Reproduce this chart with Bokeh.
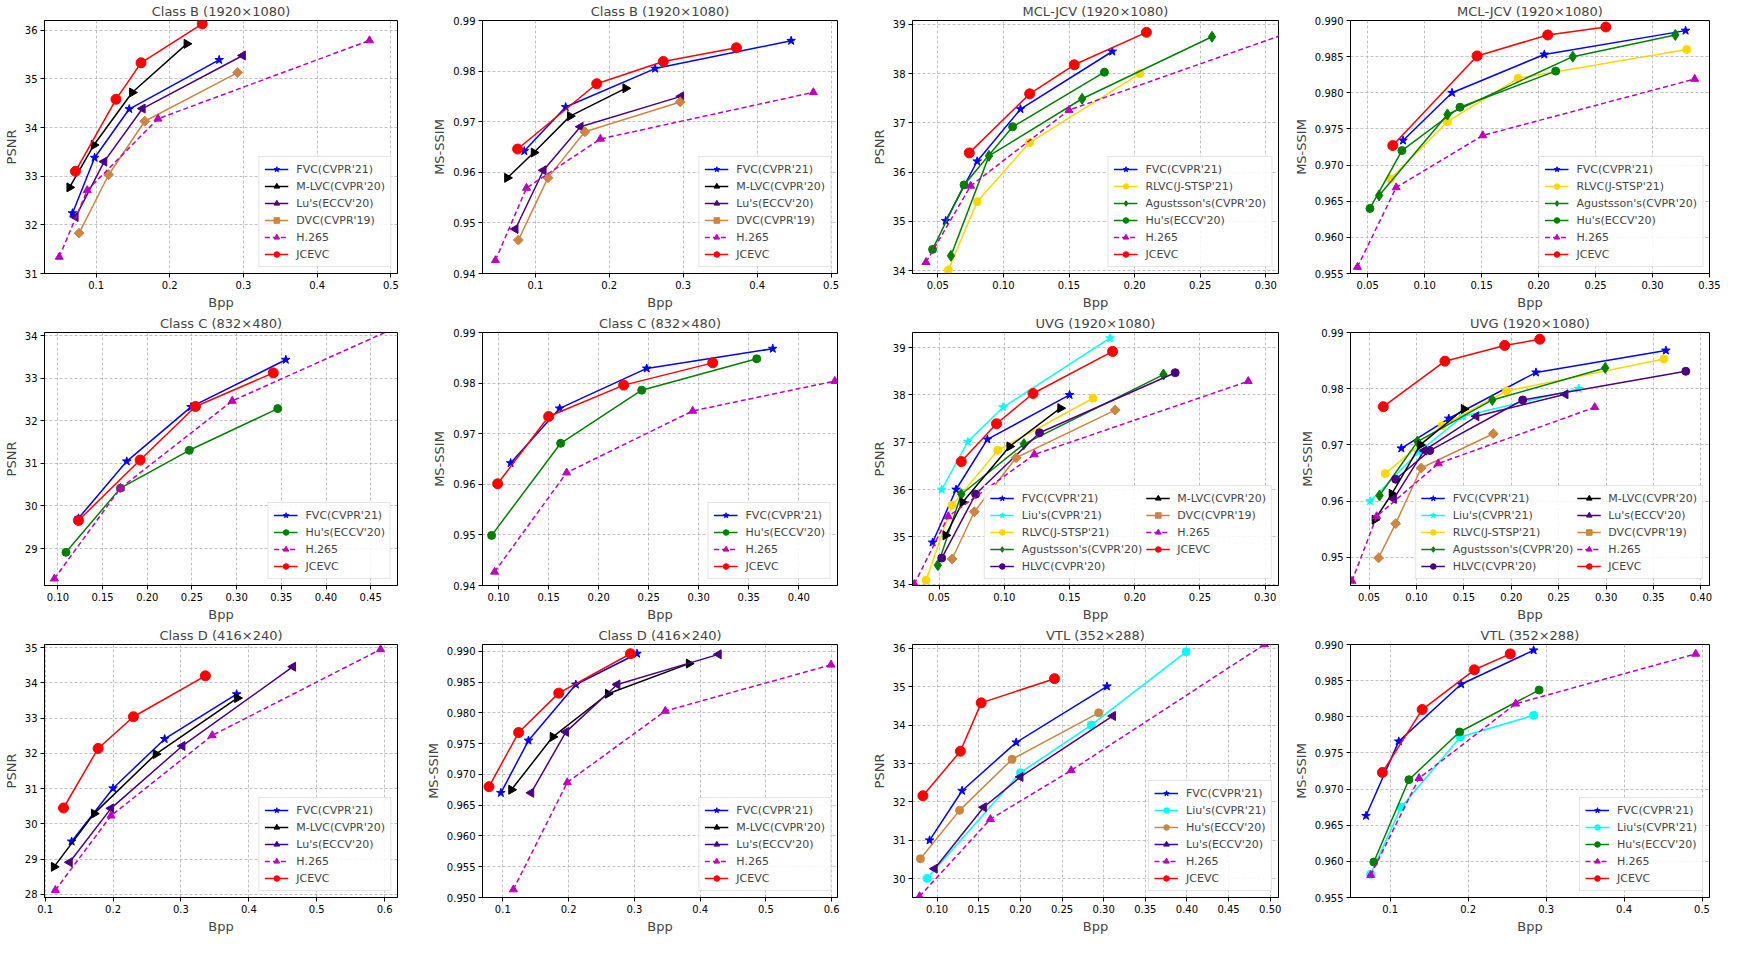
import numpy as np
from bokeh.plotting import figure
from bokeh.layouts import gridplot
from bokeh.models import FixedTicker, Range1d, Legend, LegendItem, NumeralTickFormatter
from bokeh.embed import file_html
from bokeh.resources import INLINE

# ---------------- data (Bpp, metric) ----------------
LABELS = {
    "fvc": "FVC(CVPR'21)", "mlvc": "M-LVC(CVPR'20)", "lu": "Lu's(ECCV'20)",
    "dvc": "DVC(CVPR'19)", "h265": "H.265", "jcevc": "JCEVC",
    "rlvc": "RLVC(J-STSP'21)", "agu": "Agustsson's(CVPR'20)", "hu_g": "Hu's(ECCV'20)",
    "hu_p": "Hu's(ECCV'20)", "liu_s": "Liu's(CVPR'21)", "liu_c": "Liu's(CVPR'21)",
    "hlvc": "HLVC(CVPR'20)",
}

classB_psnr = {
    "fvc":   ([0.068, 0.098, 0.145, 0.267], [32.24, 33.38, 34.38, 35.39]),
    "mlvc":  ([0.064, 0.097, 0.149, 0.223], [32.77, 33.64, 34.72, 35.72]),
    "lu":    ([0.072, 0.111, 0.163, 0.299], [32.16, 33.30, 34.39, 35.48]),
    "dvc":   ([0.077, 0.117, 0.166, 0.292], [31.83, 33.03, 34.13, 35.13]),
    "h265":  ([0.050, 0.088, 0.184, 0.471], [31.34, 32.71, 34.18, 35.79]),
    "jcevc": ([0.072, 0.127, 0.161, 0.244], [33.10, 34.58, 35.33, 36.13]),
}
classB_ssim = {
    "fvc":   ([0.085, 0.141, 0.262, 0.446], [0.9642, 0.9729, 0.9805, 0.9860]),
    "mlvc":  ([0.062, 0.098, 0.147, 0.222], [0.9589, 0.9639, 0.9711, 0.9766]),
    "lu":    ([0.073, 0.111, 0.161, 0.297], [0.9488, 0.9604, 0.9690, 0.9750]),
    "dvc":   ([0.077, 0.117, 0.167, 0.296], [0.9466, 0.9589, 0.9680, 0.9739]),
    "h265":  ([0.046, 0.088, 0.188, 0.476], [0.9426, 0.9569, 0.9666, 0.9758]),
    "jcevc": ([0.076, 0.183, 0.273, 0.372], [0.9646, 0.9775, 0.9819, 0.9846]),
}
mcl_psnr = {
    "fvc":   ([0.056, 0.080, 0.113, 0.183], [35.01, 36.22, 37.28, 38.45]),
    "rlvc":  ([0.058, 0.080, 0.120, 0.204], [34.01, 35.40, 36.60, 38.00]),
    "agu":   ([0.060, 0.089, 0.160, 0.259], [34.30, 36.33, 37.49, 38.75]),
    "hu_g":  ([0.046, 0.070, 0.107, 0.177], [34.43, 35.74, 36.92, 38.03]),
    "h265":  ([0.041, 0.075, 0.150, 0.330], [34.17, 35.72, 37.26, 38.95]),
    "jcevc": ([0.074, 0.120, 0.154, 0.209], [36.39, 37.59, 38.18, 38.84]),
}
mcl_ssim = {
    "fvc":   ([0.081, 0.124, 0.205, 0.329], [0.9734, 0.9800, 0.9853, 0.9886]),
    "rlvc":  ([0.070, 0.120, 0.182, 0.330], [0.9681, 0.9760, 0.9820, 0.9860]),
    "agu":   ([0.060, 0.120, 0.230, 0.320], [0.9658, 0.9770, 0.9850, 0.9880]),
    "hu_g":  ([0.052, 0.080, 0.131, 0.215], [0.9640, 0.9720, 0.9780, 0.9830]),
    "h265":  ([0.041, 0.075, 0.151, 0.337], [0.9559, 0.9669, 0.9741, 0.9819]),
    "jcevc": ([0.072, 0.146, 0.208, 0.259], [0.9727, 0.9851, 0.9880, 0.9891]),
}
classC_psnr = {
    "fvc":   ([0.123, 0.177, 0.249, 0.355], [29.71, 31.05, 32.33, 33.44]),
    "hu_g":  ([0.109, 0.170, 0.247, 0.346], [28.91, 30.42, 31.31, 32.29]),
    "h265":  ([0.096, 0.170, 0.295, 0.500], [28.29, 30.42, 32.47, 34.40]),
    "jcevc": ([0.123, 0.192, 0.254, 0.341], [29.66, 31.08, 32.34, 33.13]),
}
classC_ssim = {
    "fvc":   ([0.112, 0.161, 0.248, 0.374], [0.9642, 0.9750, 0.9829, 0.9868]),
    "hu_g":  ([0.093, 0.162, 0.243, 0.358], [0.9499, 0.9681, 0.9786, 0.9848]),
    "h265":  ([0.096, 0.168, 0.294, 0.436], [0.9427, 0.9623, 0.9745, 0.9804]),
    "jcevc": ([0.099, 0.150, 0.225, 0.314], [0.9601, 0.9734, 0.9796, 0.9840]),
}
uvg_psnr = {
    "fvc":   ([0.045, 0.063, 0.087, 0.150], [34.88, 36.00, 37.06, 38.00]),
    "liu_s": ([0.052, 0.072, 0.099, 0.181], [36.00, 37.01, 37.74, 39.20]),
    "rlvc":  ([0.040, 0.060, 0.095, 0.168], [34.08, 35.67, 36.83, 37.93]),
    "agu":   ([0.049, 0.067, 0.115, 0.222], [34.40, 35.90, 36.96, 38.43]),
    "hlvc":  ([0.052, 0.078, 0.127, 0.231], [34.55, 35.90, 37.20, 38.47]),
    "mlvc":  ([0.055, 0.068, 0.104, 0.143], [35.03, 35.73, 36.91, 37.72]),
    "dvc":   ([0.060, 0.077, 0.109, 0.185], [34.53, 35.53, 36.67, 37.68]),
    "h265":  ([0.031, 0.057, 0.123, 0.287], [34.00, 35.43, 36.74, 38.29]),
    "jcevc": ([0.067, 0.094, 0.122, 0.183], [36.59, 37.39, 38.03, 38.92]),
}
uvg_ssim = {
    "fvc":   ([0.084, 0.134, 0.226, 0.363], [0.9694, 0.9747, 0.9829, 0.9868]),
    "liu_s": ([0.051, 0.102, 0.149, 0.271], [0.9600, 0.9687, 0.9751, 0.9800]),
    "rlvc":  ([0.067, 0.127, 0.195, 0.361], [0.9649, 0.9734, 0.9796, 0.9853]),
    "agu":   ([0.061, 0.101, 0.180, 0.299], [0.9610, 0.9706, 0.9780, 0.9837]),
    "hlvc":  ([0.078, 0.114, 0.212, 0.384], [0.9639, 0.9690, 0.9780, 0.9831]),
    "mlvc":  ([0.056, 0.074, 0.104, 0.150], [0.9567, 0.9613, 0.9700, 0.9764]),
    "lu":    ([0.076, 0.108, 0.163, 0.257], [0.9604, 0.9690, 0.9751, 0.9790]),
    "dvc":   ([0.060, 0.078, 0.105, 0.181], [0.9499, 0.9560, 0.9659, 0.9720]),
    "h265":  ([0.032, 0.058, 0.123, 0.288], [0.9458, 0.9573, 0.9667, 0.9767]),
    "jcevc": ([0.065, 0.130, 0.193, 0.230], [0.9768, 0.9849, 0.9877, 0.9888]),
}
classD_psnr = {
    "fvc":   ([0.139, 0.200, 0.276, 0.382], [29.50, 31.01, 32.41, 33.68]),
    "mlvc":  ([0.113, 0.172, 0.263, 0.383], [28.78, 30.29, 31.98, 33.57]),
    "lu":    ([0.136, 0.197, 0.302, 0.465], [28.91, 30.44, 32.21, 34.46]),
    "h265":  ([0.115, 0.197, 0.346, 0.594], [28.12, 30.23, 32.51, 34.95]),
    "jcevc": ([0.127, 0.178, 0.230, 0.336], [30.45, 32.14, 33.04, 34.20]),
}
classD_ssim = {
    "fvc":   ([0.097, 0.139, 0.211, 0.304], [0.9670, 0.9755, 0.9846, 0.9896]),
    "mlvc":  ([0.113, 0.176, 0.260, 0.383], [0.9675, 0.9761, 0.9831, 0.9880]),
    "lu":    ([0.143, 0.196, 0.274, 0.428], [0.9670, 0.9769, 0.9846, 0.9895]),
    "h265":  ([0.116, 0.198, 0.347, 0.599], [0.9513, 0.9687, 0.9803, 0.9878]),
    "jcevc": ([0.079, 0.124, 0.185, 0.294], [0.9680, 0.9768, 0.9832, 0.9896]),
}
vtl_psnr = {
    "fvc":   ([0.091, 0.130, 0.195, 0.304], [31.00, 32.29, 33.55, 35.01]),
    "liu_c": ([0.088, 0.200, 0.285, 0.399], [30.01, 32.76, 34.00, 35.91]),
    "hu_p":  ([0.080, 0.127, 0.190, 0.294], [30.52, 31.78, 33.11, 34.32]),
    "lu":    ([0.097, 0.156, 0.200, 0.311], [30.26, 31.86, 32.65, 34.24]),
    "h265":  ([0.079, 0.164, 0.261, 0.493], [29.54, 31.55, 32.82, 36.10]),
    "jcevc": ([0.083, 0.128, 0.153, 0.241], [32.16, 33.32, 34.58, 35.21]),
}
vtl_ssim = {
    "fvc":   ([0.069, 0.111, 0.191, 0.284], [0.9663, 0.9766, 0.9845, 0.9892]),
    "liu_c": ([0.075, 0.114, 0.190, 0.284], [0.9582, 0.9675, 0.9772, 0.9802]),
    "hu_g":  ([0.079, 0.124, 0.189, 0.291], [0.9599, 0.9713, 0.9779, 0.9837]),
    "h265":  ([0.075, 0.137, 0.261, 0.492], [0.9581, 0.9715, 0.9818, 0.9887]),
    "jcevc": ([0.090, 0.141, 0.208, 0.254], [0.9723, 0.9810, 0.9865, 0.9887]),
}

# tick values
ticks_x_01_05 = [0.1, 0.2, 0.3, 0.4, 0.5]
ticks_x_01_06 = [0.1, 0.2, 0.3, 0.4, 0.5, 0.6]
ticks_x_005_030 = [0.05, 0.10, 0.15, 0.20, 0.25, 0.30]
ticks_x_005_035 = [0.05, 0.10, 0.15, 0.20, 0.25, 0.30, 0.35]
ticks_x_005_040 = [0.05, 0.10, 0.15, 0.20, 0.25, 0.30, 0.35, 0.40]
ticks_x_010_045 = [0.10, 0.15, 0.20, 0.25, 0.30, 0.35, 0.40, 0.45]
ticks_x_010_040 = [0.10, 0.15, 0.20, 0.25, 0.30, 0.35, 0.40]
ticks_x_010_050 = [0.10, 0.15, 0.20, 0.25, 0.30, 0.35, 0.40, 0.45, 0.50]
ticks_y_31_36 = [31, 32, 33, 34, 35, 36]
ticks_y_34_39 = [34, 35, 36, 37, 38, 39]
ticks_y_29_34 = [29, 30, 31, 32, 33, 34]
ticks_y_28_35 = [28, 29, 30, 31, 32, 33, 34, 35]
ticks_y_30_36 = [30, 31, 32, 33, 34, 35, 36]
ticks_y_094_099 = [0.94, 0.95, 0.96, 0.97, 0.98, 0.99]
ticks_y_095_099 = [0.95, 0.96, 0.97, 0.98, 0.99]
ticks_y_0955_0990 = [0.955, 0.960, 0.965, 0.970, 0.975, 0.980, 0.985, 0.990]
ticks_y_0950_0990 = [0.950, 0.955, 0.960, 0.965, 0.970, 0.975, 0.980, 0.985, 0.990]

# ---------------- styles ----------------
STYLES = {
    "fvc":   dict(color="#0000ff", marker="star", size=9, angle=0.0, dash="solid"),
    "mlvc":  dict(color="#000000", marker="triangle", size=9, angle=-np.pi / 2, dash="solid"),
    "lu":    dict(color="#4b0082", marker="triangle", size=9, angle=np.pi / 2, dash="solid"),
    "dvc":   dict(color="#cd853f", marker="square", size=7, angle=np.pi / 4, dash="solid"),
    "h265":  dict(color="#bf00bf", marker="triangle", size=8, angle=0.0, dash="5 3"),
    "jcevc": dict(color="#ff0000", marker="circle", size=10, angle=0.0, dash="solid"),
    "rlvc":  dict(color="#ffd700", marker="circle", size=8, angle=0.0, dash="solid"),
    "agu":   dict(color="#008000", marker="diamond", size=11, angle=0.0, dash="solid"),
    "hu_g":  dict(color="#008000", marker="circle", size=8, angle=0.0, dash="solid"),
    "hu_p":  dict(color="#cd853f", marker="circle", size=8, angle=0.0, dash="solid"),
    "liu_s": dict(color="#00ffff", marker="star", size=9, angle=0.0, dash="solid"),
    "liu_c": dict(color="#00ffff", marker="circle", size=8, angle=0.0, dash="solid"),
    "hlvc":  dict(color="#4b0082", marker="circle", size=8, angle=0.0, dash="solid"),
}

FONT = "DejaVu Sans"
COL_W = [422, 434, 434, 431]
COL_BL = [25, 48, 56, 58]
COL_BR = [25, 19, 12, 12]
ROW_H = 312


def make_panel(col, title, ylabel, data, xr, yr, xticks, yticks, xfmt, yfmt, nrows=None):
    p = figure(width=COL_W[col], height=ROW_H, x_range=Range1d(*xr), y_range=Range1d(*yr),
               output_backend="svg", toolbar_location=None,
               min_border_left=COL_BL[col], min_border_right=COL_BR[col],
               min_border_top=2, min_border_bottom=2)
    p.title.text = title
    p.title.align = "center"
    p.title.text_font = FONT
    p.title.text_font_size = "13px"
    p.title.text_font_style = "normal"
    p.title.standoff = 3
    p.outline_line_color = "black"
    p.outline_line_alpha = 1.0
    p.outline_line_width = 1

    for ax in (p.xaxis[0], p.yaxis[0]):
        ax.axis_label_text_font = FONT
        ax.axis_label_text_font_size = "13px"
        ax.axis_label_text_font_style = "normal"
        ax.axis_label_standoff = 3
        ax.major_label_text_font = FONT
        ax.major_label_text_font_size = "10px"
        ax.major_label_text_color = "black"
        ax.major_label_standoff = 3
        ax.major_tick_in = 0
        ax.major_tick_out = 4
        ax.minor_tick_line_color = None
        ax.axis_line_color = "black"
        ax.major_tick_line_color = "black"
    p.xaxis.axis_label = "Bpp"
    p.yaxis.axis_label = ylabel
    p.xaxis.ticker = FixedTicker(ticks=xticks)
    p.yaxis.ticker = FixedTicker(ticks=yticks)
    p.xaxis.formatter = NumeralTickFormatter(format=xfmt)
    p.yaxis.formatter = NumeralTickFormatter(format=yfmt)

    for g in (p.xgrid[0], p.ygrid[0]):
        g.grid_line_color = "#b0b0b0"
        g.grid_line_dash = "3 2"
        g.grid_line_width = 0.8

    items = []
    for key, (xs, ys) in data.items():
        st = STYLES[key]
        lr = p.line(xs, ys, line_color=st["color"], line_width=1.5, line_dash=st["dash"])
        sr = p.scatter(xs, ys, marker=st["marker"], size=st["size"], angle=st["angle"],
                       fill_color=st["color"], line_color=st["color"])
        items.append(LegendItem(label=LABELS[key], renderers=[lr, sr]))

    leg = Legend(items=items, location="bottom_right")
    leg.label_text_font = FONT
    leg.label_text_font_size = "11px"
    leg.glyph_width = 24
    leg.glyph_height = 14
    leg.label_height = 14
    leg.label_standoff = 8
    leg.spacing = 3
    leg.padding = 5
    leg.margin = 6
    leg.border_line_color = "#cccccc"
    leg.border_line_width = 1
    leg.background_fill_alpha = 0.85
    if nrows:
        leg.nrows = nrows
    p.add_layout(leg)
    return p


p1 = make_panel(0, "Class B (1920×1080)", "PSNR", classB_psnr, (0.030, 0.509), (31.0, 36.2),
                ticks_x_01_05, ticks_y_31_36, "0.0", "0")
p2 = make_panel(1, "Class B (1920×1080)", "MS-SSIM", classB_ssim, (0.0285, 0.5087), (0.94, 0.99),
                ticks_x_01_05, ticks_y_094_099, "0.0", "0.00")
p3 = make_panel(2, "MCL-JCV (1920×1080)", "PSNR", mcl_psnr, (0.0307, 0.3097), (33.94, 39.08),
                ticks_x_005_030, ticks_y_34_39, "0.00", "0")
p4 = make_panel(3, "MCL-JCV (1920×1080)", "MS-SSIM", mcl_ssim, (0.0349, 0.35), (0.955, 0.990),
                ticks_x_005_035, ticks_y_0955_0990, "0.00", "0.000")
p5 = make_panel(0, "Class C (832×480)", "PSNR", classC_psnr, (0.085, 0.480), (28.13, 34.08),
                ticks_x_010_045, ticks_y_29_34, "0.00", "0")
p6 = make_panel(1, "Class C (832×480)", "MS-SSIM", classC_ssim, (0.0839, 0.4387), (0.94, 0.99),
                ticks_x_010_040, ticks_y_094_099, "0.00", "0.00")
p7 = make_panel(2, "UVG (1920×1080)", "PSNR", uvg_psnr, (0.0296, 0.3102), (33.97, 39.32),
                ticks_x_005_030, ticks_y_34_39, "0.00", "0", nrows=5)
p8 = make_panel(3, "UVG (1920×1080)", "MS-SSIM", uvg_ssim, (0.0304, 0.409), (0.945, 0.99),
                ticks_x_005_040, ticks_y_095_099, "0.00", "0.00", nrows=5)
p9 = make_panel(0, "Class D (416×240)", "PSNR", classD_psnr, (0.099, 0.619), (27.91, 35.09),
                ticks_x_01_06, ticks_y_28_35, "0.0", "0")
p10 = make_panel(1, "Class D (416×240)", "MS-SSIM", classD_ssim, (0.0691, 0.6088), (0.95, 0.9911),
                 ticks_x_01_06, ticks_y_0950_0990, "0.0", "0.000")
p11 = make_panel(2, "VTL (352×288)", "PSNR", vtl_psnr, (0.0705, 0.5099), (29.51, 36.10),
                 ticks_x_010_050, ticks_y_30_36, "0.00", "0")
p12 = make_panel(3, "VTL (352×288)", "MS-SSIM", vtl_ssim, (0.0491, 0.5096), (0.955, 0.990),
                 ticks_x_01_05, ticks_y_0955_0990, "0.0", "0.000")

grid = gridplot([[p1, p2, p3, p4], [p5, p6, p7, p8], [p9, p10, p11, p12]], toolbar_location=None)

open("out.html", "w").write(file_html(grid, INLINE))
